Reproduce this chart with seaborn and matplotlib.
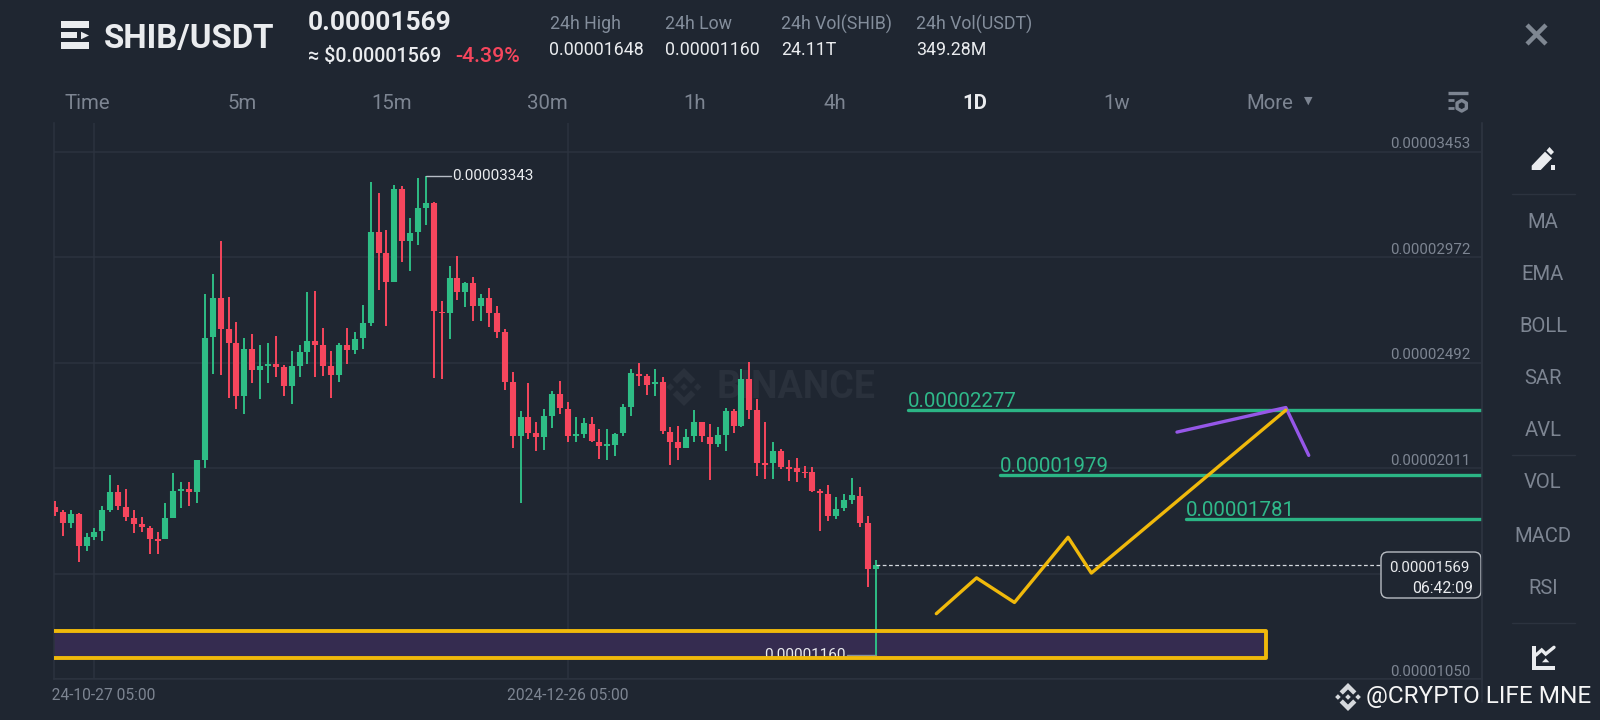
import numpy as np
import pandas as pd
import seaborn as sns
import matplotlib.pyplot as plt
from matplotlib.patches import FancyBboxPatch
from matplotlib.transforms import Bbox

# daily candles, price in units of 0.00000001 USDT
opens = [1833,1812,1764,1803,1656,1698,1724,1822,1905,1837,
         1787,1757,1741,1688,1688,1787,1908,1915,1902,2049,
         2607,2788,2645,2581,2341,2553,2461,2478,2486,2473,
         2386,2475,2542,2592,2575,2475,2435,2571,2549,2604,
         2674,3086,2991,2862,3284,3046,3086,3196,3218,2724,
         2717,2879,2815,2853,2750,2788,2717,2631,2404,2157,
         2244,2170,2154,2250,2349,2281,2157,2168,2215,2133,
         2113,2116,2170,2291,2441,2432,2393,2405,2177,2129,
         2103,2157,2220,2154,2120,2163,2272,2202,2417,2276,
         2034,2033,2089,2016,2011,1996,1993,1908,1896,1796,
         1830,1866,1887,1761,1551]
closes = [1814,1764,1802,1656,1698,1720,1822,1905,1838,1790,
          1758,1744,1689,1682,1784,1907,1915,1902,2048,2605,
          2788,2646,2583,2341,2554,2461,2478,2486,2473,2386,
          2475,2540,2592,2574,2476,2434,2571,2549,2602,2672,
          3086,2993,2862,3284,3046,3083,3196,3218,2726,2717,
          2877,2815,2855,2750,2786,2720,2633,2405,2157,2245,
          2170,2153,2249,2348,2284,2159,2168,2217,2135,2113,
          2120,2168,2290,2443,2432,2391,2405,2179,2130,2104,
          2155,2220,2156,2120,2162,2273,2202,2417,2277,2034,
          2028,2089,2018,2010,1996,1989,1907,1898,1794,1828,
          1866,1889,1762,1551,1569]
highs = [1861,1820,1820,1806,1715,1738,1838,1981,1933,1917,
         1819,1791,1747,1723,1852,1989,1949,1948,2048,2805,
         2894,3045,2792,2676,2604,2621,2571,2584,2616,2481,
         2545,2575,2812,2817,2648,2544,2584,2651,2634,2754,
         3315,3263,3095,3300,3295,3152,3334,3343,3222,2771,
         2931,2976,2859,2884,2806,2833,2749,2645,2448,2270,
         2399,2223,2282,2364,2407,2312,2243,2238,2243,2189,
         2191,2172,2305,2463,2493,2441,2463,2426,2197,2203,
         2189,2275,2220,2214,2197,2284,2280,2463,2496,2325,
         2220,2133,2098,2048,2056,2022,2016,1915,1933,1881,
         1896,1967,1924,1794,1595]
lows = [1794,1703,1739,1583,1633,1683,1682,1811,1819,1771,
        1716,1723,1620,1620,1687,1785,1829,1838,1851,2012,
        2441,2435,2332,2282,2259,2400,2326,2400,2428,2339,
        2303,2425,2487,2428,2432,2332,2405,2487,2530,2555,
        2660,2824,2660,2860,2952,2911,3029,3120,2422,2418,
        2600,2780,2744,2683,2683,2655,2603,2370,2104,1852,
        2144,2088,2095,2193,2258,2129,2133,2151,2129,2053,
        2049,2069,2159,2248,2387,2344,2341,2166,2024,2048,
        2103,2133,2129,1960,2109,2092,2170,2200,2235,1974,
        1963,1963,2006,1952,1948,1967,1902,1726,1770,1779,
        1816,1848,1746,1469,1160]

axis_prices = [3453, 2972, 2492, 2011, 1531, 1050]
date_idx = [5, 65]
date_labels = ['2024-10-27 05:00', '2024-12-26 05:00']

# drawn levels and scenario lines
level_prices = [2277, 1979, 1781]
level_starts = [108.1, 119.8, 143.3]
yellow_x = [111.7, 116.8, 121.6, 128.4, 131.35, 156.0]
yellow_y = [1349, 1512, 1400, 1697, 1534, 2276]
purple_x = [142.2, 156.0, 158.9]
purple_y = [2176, 2288, 2070]
zone_low, zone_high, zone_end = 1146, 1269, 153.5

last_price = 1569
day_high = 3343
day_low = 1160

intervals = ['Time', '5m', '15m', '30m', '1h', '4h', '1D', '1w', 'More']
interval_px = [87, 242, 392, 547, 695, 835, 975, 1117, 1270]
tools = ['MA', 'EMA', 'BOLL', 'SAR', 'AVL', 'VOL', 'MACD', 'RSI']
tools_px = [222, 274.5, 326.5, 378.5, 431, 483, 536, 588]
stat_names = ['24h High', '24h Low', '24h Vol(SHIB)', '24h Vol(USDT)']
stat_values = ['0.00001648', '0.00001160', '24.11T', '349.28M']
stat_px = [549.5, 665, 781, 916]

BG = '#1f2631'
GRID = '#2c333f'
GREEN = '#2ebd85'
RED = '#f6465d'
YELLOW = '#f0b90b'
GREY = '#7d8592'
WHITE = '#eaecef'

sns.set_theme(style='dark', rc={'axes.facecolor': BG, 'figure.facecolor': BG})
plt.rcParams['font.family'] = ['Roboto', 'DejaVu Sans']

df = pd.DataFrame({'i': range(len(opens)), 'open': opens, 'high': highs, 'low': lows, 'close': closes})
df['dir'] = np.where(df['close'] >= df['open'], 'up', 'down')
wicks = pd.concat([df.assign(y=df['high']), df.assign(y=df['low'])])
bodies = pd.concat([df.assign(y=df['open']), df.assign(y=df['close'])])
colors = {'up': GREEN, 'down': RED}

fig = plt.figure(figsize=(16, 7.2), dpi=100, facecolor=BG)


def pixel_axes(z):
    a = fig.add_axes([0, 0, 1, 1], zorder=z)
    a.set_xlim(0, 1600)
    a.set_ylim(720, 0)
    a.axis('off')
    a.patch.set_alpha(0)
    return a


def logo(a, cx, cy, r, color):
    small = np.array([(0, -.2), (.2, 0), (0, .2), (-.2, 0)])
    chevron = np.array([(-.6, -.4), (0, -1), (.6, -.4), (.37, -.17), (0, -.54), (-.37, -.17)])
    for dx in (-.72, 0, .72):
        a.fill(cx + r * (small[:, 0] + dx), cy + r * small[:, 1], color=color, lw=0)
    for s in (1, -1):
        a.fill(cx + r * chevron[:, 0], cy + s * r * chevron[:, 1], color=color, lw=0)


under = pixel_axes(0)
ax = fig.add_axes([54.3 / 1600, 1 - 679.3 / 720, (1482 - 54.3) / 1600, (679.3 - 123) / 720], zorder=1)
ui = pixel_axes(2)

# watermark behind the candles
logo(under, 684, 387, 19, '#2a313c')
under.text(796, 387, 'BINANCE', color='#2a313c', fontsize=27, fontweight='bold', ha='center', va='center')

ax.patch.set_alpha(0)
ax.set_xlim(-0.09, 180.86)
ax.set_ylim(1050, 3584)

ax.fill_between([-0.09, zone_end], zone_low, zone_high, color='#352c50', lw=0, zorder=1)

sns.lineplot(data=wicks, x='i', y='y', units='i', hue='dir', palette=colors, estimator=None,
             lw=1.4, legend=False, ax=ax, solid_capstyle='butt', zorder=3)
sns.lineplot(data=bodies, x='i', y='y', units='i', hue='dir', palette=colors, estimator=None,
             lw=4.4, legend=False, ax=ax, solid_capstyle='butt', zorder=4)

# grid and axis
ax.set_yticks(axis_prices, [''] * len(axis_prices))
ax.set_xticks(date_idx, date_labels)
ax.grid(True, color=GRID, lw=1.1)
ax.set_axisbelow(True)
ax.tick_params(length=0, pad=6, labelsize=11.2, labelcolor=GREY)
for name, sp in ax.spines.items():
    sp.set_color(GRID)
    sp.set_linewidth(1.1)
    sp.set_visible(name != 'top')
for lab in ax.get_xticklabels():
    lab.set_clip_box(Bbox.from_extents(51, 0, 1600, 720))
    lab.set_clip_on(True)

for p in axis_prices:
    ax.annotate(f'{p / 1e8:.8f}', xy=(1, p), xycoords=('axes fraction', 'data'), xytext=(-8.6, 5.4),
                textcoords='offset points', ha='right', va='center', fontsize=10.8, color=GREY, zorder=2)

# high / low markers
ax.plot([47, 50.2], [day_high, day_high], color='#b7bdc6', lw=1, zorder=5)
ax.text(50.3, day_high, f'{day_high / 1e8:.8f}', color=WHITE, fontsize=11, va='center', zorder=5)
ax.plot([104, 100.4], [day_low, day_low], color='#8a919c', lw=1, zorder=5)
ax.text(100.2, day_low, f'{day_low / 1e8:.8f}', color=WHITE, fontsize=11, va='center', ha='right', zorder=5)

# last price line
ax.plot([104, 168.1], [last_price, last_price], color='#d5d9df', lw=0.9, ls=(0, (3, 2)), zorder=5)

# drawn levels
for p, s in zip(level_prices, level_starts):
    lev = pd.DataFrame({'x': [s, 180.86], 'y': [p, p]})
    sns.lineplot(data=lev, x='x', y='y', color='#2bb585', lw=2.4, ax=ax, zorder=6, estimator=None)
    ax.annotate(f'{p / 1e8:.8f}', xy=(s, p), xytext=(0, 6.2), textcoords='offset points',
                color='#2fb98a', fontsize=14.8, va='center', zorder=6)

sns.lineplot(x=purple_x, y=purple_y, color='#9657e8', lw=2.4, ax=ax, sort=False, estimator=None, zorder=7)
sns.lineplot(x=yellow_x, y=yellow_y, color=YELLOW, lw=2.4, ax=ax, sort=False, estimator=None, zorder=7)

# yellow zone outline
sns.lineplot(x=[-0.09, zone_end, zone_end, -0.09], y=[zone_high, zone_high, zone_low, zone_low],
             color=YELLOW, lw=2.8, ax=ax, sort=False, estimator=None, zorder=8)
ax.set_xlabel('')
ax.set_ylabel('')

# price box
ui.add_patch(FancyBboxPatch((1381, 552), 100, 46, boxstyle='round,pad=0,rounding_size=7',
                            fc=BG, ec='#c4c8ce', lw=1, alpha=0.93))
ui.text(1470, 568.5, '0.00001569', color=WHITE, fontsize=10.8, ha='right', va='center')
ui.text(1473, 588.5, '06:42:09', color=WHITE, fontsize=11.4, ha='right', va='center')

# header
ui.fill([61, 89, 89, 61], [21, 21, 27.5, 27.5], color=WHITE, lw=0)
ui.fill([61, 89, 89, 61], [42, 42, 49, 49], color=WHITE, lw=0)
ui.fill([61, 77, 77, 61], [32.3, 32.3, 37.7, 37.7], color=WHITE, lw=0)
ui.fill([81, 89, 81], [31.7, 35.5, 39.3], color=WHITE, lw=0)
ui.text(104, 38.5, 'SHIB/USDT', color=WHITE, fontsize=23.8, fontweight='bold', va='center')
ui.text(308, 23, '0.00001569', color=WHITE, fontsize=19, fontweight='bold', va='center')
ui.text(308, 57, '≈ $0.00001569', color=WHITE, fontsize=14.2, fontweight='medium', va='center')
ui.text(455, 57, '-4.39%', color=RED, fontsize=15.3, fontweight='medium', va='center')
for n, v, x in zip(stat_names, stat_values, stat_px):
    ui.text(x, 24, n, color='#848e9c', fontsize=12.8, va='center')
    ui.text(x, 50, v, color=WHITE, fontsize=12.8, va='center')
for a, b in (((1527, 25), (1546, 44)), ((1546, 25), (1527, 44))):
    ui.plot(*zip(a, b), color='#7f8792', lw=3.2, solid_capstyle='butt')

for t, x in zip(intervals, interval_px):
    ui.text(x, 103.5, t, color=WHITE if t == '1D' else GREY, fontsize=14.7,
            fontweight='bold' if t == '1D' else 'normal', ha='center', va='center')
ui.text(1308, 101, '▼', color=GREY, fontsize=8, ha='center', va='center')
# layout settings icon
ui.plot([1448, 1468], [92.7, 92.7], color=GREY, lw=2.4, solid_capstyle='butt')
ui.plot([1448, 1453.5], [100.3, 100.3], color=GREY, lw=2, solid_capstyle='butt')
ui.plot([1448, 1453.5], [108.3, 108.3], color=GREY, lw=2, solid_capstyle='butt')
ui.scatter([1461.7], [105.7], s=60, marker='h', fc='none', ec=GREY, lw=2.4)

# right toolbar
for t, y in zip(tools, tools_px):
    ui.text(1543, y, t, color=GREY, fontsize=14.6, ha='center', va='center')
for y in (194, 455, 622.5):
    ui.plot([1512, 1575], [y, y], color=GRID, lw=1)
ui.plot([1482, 1482], [123, 702], color=GRID, lw=1.1)
# pen icon
ui.fill([1531.7, 1531.7, 1545, 1552, 1540.7], [170, 165.7, 151.7, 158.3, 170], color=WHITE, lw=0)
ui.fill([1546.5, 1549.5, 1554, 1551], [150.5, 147, 152, 155], color=WHITE, lw=0)
ui.fill([1550.7, 1555.3, 1555.3, 1550.7], [165.3, 165.3, 170, 170], color=WHITE, lw=0)
# chart icon
ui.fill([1531.7, 1536, 1536, 1555, 1555, 1531.7], [646, 646, 665.7, 665.7, 670, 670], color=WHITE, lw=0)
ui.plot([1536, 1541.7, 1545.7, 1554], [655, 650, 654, 647.3], color=WHITE, lw=2.4, solid_joinstyle='miter')
ui.fill([1545.7, 1549.3, 1542], [658.3, 662.3, 662.3], color=WHITE, lw=0)

# footer watermark
logo(ui, 1348, 697, 14, '#d5d8dc')
ui.text(1366, 697, '@CRYPTO LIFE MNE', color='#f5f5f5', fontsize=17.6, va='center')

fig.savefig('out.png', dpi=100, facecolor=BG)
